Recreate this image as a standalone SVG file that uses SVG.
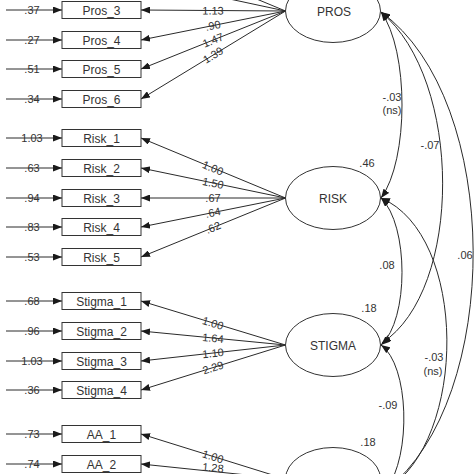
<svg xmlns="http://www.w3.org/2000/svg" width="474" height="474" viewBox="0 0 474 474">
<style>
.bg{fill:#ffffff}
.box{fill:#ffffff;stroke:#333333;stroke-width:1}
.ell{fill:#ffffff;stroke:#333333;stroke-width:1}
.ln{stroke:#2a2a2a;stroke-width:1;fill:none}
.t{font-family:"Liberation Sans",Arial,sans-serif;font-size:12px;fill:#333333;text-anchor:middle}
.n{font-family:"Liberation Sans",Arial,sans-serif;font-size:11px;fill:#333333;text-anchor:middle}
</style>
<defs>
<marker id="ah" viewBox="0 0 9 7" refX="9" refY="3.5" markerWidth="9" markerHeight="7" markerUnits="userSpaceOnUse" orient="auto-start-reverse">
<path d="M0,0 L9,3.5 L0,7 z" fill="#1a1a1a"/>
</marker>
</defs>
<rect class="bg" x="0" y="0" width="474" height="474"/>

<g id="connectors">
<!-- error arrows -->
<line class="ln" x1="6" y1="10" x2="62" y2="10" marker-end="url(#ah)"/>
<line class="ln" x1="6" y1="40" x2="62" y2="40" marker-end="url(#ah)"/>
<line class="ln" x1="6" y1="69" x2="62" y2="69" marker-end="url(#ah)"/>
<line class="ln" x1="6" y1="99" x2="62" y2="99" marker-end="url(#ah)"/>
<line class="ln" x1="6" y1="138" x2="62" y2="138" marker-end="url(#ah)"/>
<line class="ln" x1="6" y1="168" x2="62" y2="168" marker-end="url(#ah)"/>
<line class="ln" x1="6" y1="198" x2="62" y2="198" marker-end="url(#ah)"/>
<line class="ln" x1="6" y1="227" x2="62" y2="227" marker-end="url(#ah)"/>
<line class="ln" x1="6" y1="257" x2="62" y2="257" marker-end="url(#ah)"/>
<line class="ln" x1="6" y1="301" x2="62" y2="301" marker-end="url(#ah)"/>
<line class="ln" x1="6" y1="331" x2="62" y2="331" marker-end="url(#ah)"/>
<line class="ln" x1="6" y1="361" x2="62" y2="361" marker-end="url(#ah)"/>
<line class="ln" x1="6" y1="390" x2="62" y2="390" marker-end="url(#ah)"/>
<line class="ln" x1="6" y1="434" x2="62" y2="434" marker-end="url(#ah)"/>
<line class="ln" x1="6" y1="464" x2="62" y2="464" marker-end="url(#ah)"/>
<!-- loadings -->
<line class="ln" x1="285.5" y1="11" x2="141" y2="-49" marker-end="url(#ah)"/>
<line class="ln" x1="285.5" y1="11" x2="141" y2="-20" marker-end="url(#ah)"/>
<line class="ln" x1="285.5" y1="11" x2="141" y2="10" marker-end="url(#ah)"/>
<line class="ln" x1="285.5" y1="11" x2="141" y2="40" marker-end="url(#ah)"/>
<line class="ln" x1="285.5" y1="11" x2="141" y2="69" marker-end="url(#ah)"/>
<line class="ln" x1="285.5" y1="11" x2="141" y2="99" marker-end="url(#ah)"/>
<line class="ln" x1="285.5" y1="198" x2="141" y2="138" marker-end="url(#ah)"/>
<line class="ln" x1="285.5" y1="198" x2="141" y2="168" marker-end="url(#ah)"/>
<line class="ln" x1="285.5" y1="198" x2="141" y2="198" marker-end="url(#ah)"/>
<line class="ln" x1="285.5" y1="198" x2="141" y2="227" marker-end="url(#ah)"/>
<line class="ln" x1="285.5" y1="198" x2="141" y2="257" marker-end="url(#ah)"/>
<line class="ln" x1="285.5" y1="345" x2="141" y2="301" marker-end="url(#ah)"/>
<line class="ln" x1="285.5" y1="345" x2="141" y2="331" marker-end="url(#ah)"/>
<line class="ln" x1="285.5" y1="345" x2="141" y2="361" marker-end="url(#ah)"/>
<line class="ln" x1="285.5" y1="345" x2="141" y2="390" marker-end="url(#ah)"/>
<line class="ln" x1="285.5" y1="479" x2="141" y2="434" marker-end="url(#ah)"/>
<line class="ln" x1="285.5" y1="479" x2="141" y2="464" marker-end="url(#ah)"/>
<!-- covariances -->
<path class="ln" d="M381,12 C409,50 409,160 381,198" marker-start="url(#ah)" marker-end="url(#ah)"/>
<path class="ln" d="M381,12 C463,80 463,290 382,343" marker-start="url(#ah)" marker-end="url(#ah)"/>
<path class="ln" d="M381,12 C503,100 503,400 386,490" marker-start="url(#ah)" marker-end="url(#ah)"/>
<path class="ln" d="M381,198 C409,225 409,320 381,345" marker-start="url(#ah)" marker-end="url(#ah)"/>
<path class="ln" d="M381,198 C468,235 468,440 386,490" marker-start="url(#ah)" marker-end="url(#ah)"/>
<path class="ln" d="M381,345 C409,365 412,455 386,490" marker-start="url(#ah)" marker-end="url(#ah)"/>
</g>

<g id="Pros_3"><rect class="box" x="62" y="1.5" width="79" height="17"/><text class="t" x="101.5" y="14.5">Pros_3</text></g>
<g id="Pros_4"><rect class="box" x="62" y="31.5" width="79" height="17"/><text class="t" x="101.5" y="44.5">Pros_4</text></g>
<g id="Pros_5"><rect class="box" x="62" y="60.5" width="79" height="17"/><text class="t" x="101.5" y="73.5">Pros_5</text></g>
<g id="Pros_6"><rect class="box" x="62" y="90.5" width="79" height="17"/><text class="t" x="101.5" y="103.5">Pros_6</text></g>
<g id="Risk_1"><rect class="box" x="62" y="129.5" width="79" height="17"/><text class="t" x="101.5" y="142.5">Risk_1</text></g>
<g id="Risk_2"><rect class="box" x="62" y="159.5" width="79" height="17"/><text class="t" x="101.5" y="172.5">Risk_2</text></g>
<g id="Risk_3"><rect class="box" x="62" y="189.5" width="79" height="17"/><text class="t" x="101.5" y="202.5">Risk_3</text></g>
<g id="Risk_4"><rect class="box" x="62" y="218.5" width="79" height="17"/><text class="t" x="101.5" y="231.5">Risk_4</text></g>
<g id="Risk_5"><rect class="box" x="62" y="248.5" width="79" height="17"/><text class="t" x="101.5" y="261.5">Risk_5</text></g>
<g id="Stigma_1"><rect class="box" x="62" y="292.5" width="79" height="17"/><text class="t" x="101.5" y="305.5">Stigma_1</text></g>
<g id="Stigma_2"><rect class="box" x="62" y="322.5" width="79" height="17"/><text class="t" x="101.5" y="335.5">Stigma_2</text></g>
<g id="Stigma_3"><rect class="box" x="62" y="352.5" width="79" height="17"/><text class="t" x="101.5" y="365.5">Stigma_3</text></g>
<g id="Stigma_4"><rect class="box" x="62" y="381.5" width="79" height="17"/><text class="t" x="101.5" y="394.5">Stigma_4</text></g>
<g id="AA_1"><rect class="box" x="62" y="425.5" width="79" height="17"/><text class="t" x="101.5" y="438.5">AA_1</text></g>
<g id="AA_2"><rect class="box" x="62" y="455.5" width="79" height="17"/><text class="t" x="101.5" y="468.5">AA_2</text></g>

<g id="PROS"><ellipse class="ell" cx="333" cy="11" rx="47.5" ry="31.5"/><text class="t" x="334" y="15.5">PROS</text></g>
<g id="RISK"><ellipse class="ell" cx="333" cy="198" rx="47.5" ry="31.5"/><text class="t" x="333" y="202.5">RISK</text><text class="n" x="367" y="167">.46</text></g>
<g id="STIGMA"><ellipse class="ell" cx="333" cy="345" rx="47.5" ry="31.5"/><text class="t" x="333" y="349.5">STIGMA</text><text class="n" x="369" y="312">.18</text></g>
<g id="AA"><ellipse class="ell" cx="333" cy="479" rx="47.5" ry="31.5"/><text class="n" x="368" y="446">.18</text></g>

<g id="error-labels">
<text class="n" x="32" y="14">.37</text>
<text class="n" x="32" y="44">.27</text>
<text class="n" x="32" y="73">.51</text>
<text class="n" x="32" y="103">.34</text>
<text class="n" x="32" y="142">1.03</text>
<text class="n" x="32" y="172">.63</text>
<text class="n" x="32" y="202">.94</text>
<text class="n" x="32" y="231">.83</text>
<text class="n" x="32" y="261">.53</text>
<text class="n" x="32" y="305">.68</text>
<text class="n" x="32" y="335">.96</text>
<text class="n" x="32" y="365">1.03</text>
<text class="n" x="32" y="394">.36</text>
<text class="n" x="32" y="438">.73</text>
<text class="n" x="32" y="468">.74</text>
</g>

<g id="loading-labels">
<text class="n" transform="translate(213,10.5) rotate(0.4)" y="4">1.13</text>
<text class="n" transform="translate(213,25.5) rotate(-11.4)" y="4">.90</text>
<text class="n" transform="translate(213,40) rotate(-21.9)" y="4">1.47</text>
<text class="n" transform="translate(213,55) rotate(-31.4)" y="4">1.39</text>
<text class="n" transform="translate(213,168) rotate(22.6)" y="4">1.00</text>
<text class="n" transform="translate(213,183) rotate(11.8)" y="4">1.50</text>
<text class="n" transform="translate(213,198)" y="4">.67</text>
<text class="n" transform="translate(213,212.5) rotate(-11.4)" y="4">.64</text>
<text class="n" transform="translate(213,227.5) rotate(-22.3)" y="4">.62</text>
<text class="n" transform="translate(213,323) rotate(17)" y="4">1.00</text>
<text class="n" transform="translate(213,338) rotate(5.6)" y="4">1.64</text>
<text class="n" transform="translate(213,353) rotate(-6.3)" y="4">1.10</text>
<text class="n" transform="translate(213,367.5) rotate(-17.4)" y="4">2.29</text>
<text class="n" transform="translate(213,456.5) rotate(17.4)" y="4">1.00</text>
<text class="n" transform="translate(213,467.5) rotate(5.9)" y="4">1.28</text>
</g>

<g id="covariance-labels">
<text class="n" x="392" y="101">-.03</text>
<text class="n" x="392" y="114">(ns)</text>
<text class="n" x="430" y="149">-.07</text>
<text class="n" x="465" y="259">.06</text>
<text class="n" x="387" y="269">.08</text>
<text class="n" x="434" y="361">-.03</text>
<text class="n" x="433" y="375">(ns)</text>
<text class="n" x="388" y="409">-.09</text>
</g>
</svg>
